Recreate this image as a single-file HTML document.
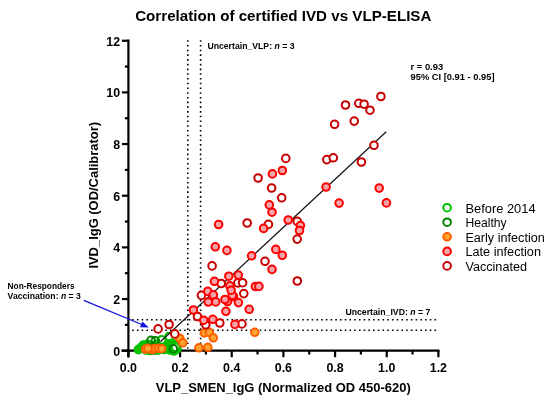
<!DOCTYPE html>
<html><head><meta charset="utf-8"><style>
html,body{margin:0;padding:0;background:#fff;}
svg{display:block;will-change:transform;}
text{font-family:"Liberation Sans",sans-serif;}
</style></head><body>
<svg width="550" height="403" viewBox="0 0 550 403">
<rect width="550" height="403" fill="#fff"/>
<text x="135.2" y="20.7" font-weight="bold" font-size="15.5" textLength="296.2" lengthAdjust="spacingAndGlyphs" fill="#000">Correlation of certified IVD vs VLP-ELISA</text>
<g stroke="#000" stroke-width="1.6" stroke-dasharray="1.6 3.123" fill="none">
<line x1="187.8" y1="40.2" x2="187.8" y2="348.6"/>
<line x1="200.6" y1="40.2" x2="200.6" y2="348.6"/>
<line x1="132.2" y1="319.8" x2="436.1" y2="319.8"/>
<line x1="132.2" y1="330.3" x2="436.1" y2="330.3"/>
</g>
<g stroke="#000" stroke-width="2.2" fill="none">
<line x1="128.4" y1="39.4" x2="128.4" y2="357.4"/>
<line x1="121.4" y1="350.7" x2="439.5" y2="350.7"/>
<line x1="121.9" y1="350.70" x2="128.4" y2="350.70"/><line x1="124.9" y1="324.87" x2="128.4" y2="324.87"/><line x1="121.9" y1="299.04" x2="128.4" y2="299.04"/><line x1="124.9" y1="273.21" x2="128.4" y2="273.21"/><line x1="121.9" y1="247.38" x2="128.4" y2="247.38"/><line x1="124.9" y1="221.55" x2="128.4" y2="221.55"/><line x1="121.9" y1="195.72" x2="128.4" y2="195.72"/><line x1="124.9" y1="169.89" x2="128.4" y2="169.89"/><line x1="121.9" y1="144.06" x2="128.4" y2="144.06"/><line x1="124.9" y1="118.23" x2="128.4" y2="118.23"/><line x1="121.9" y1="92.40" x2="128.4" y2="92.40"/><line x1="124.9" y1="66.57" x2="128.4" y2="66.57"/><line x1="121.9" y1="40.74" x2="128.4" y2="40.74"/><line x1="128.40" y1="350.7" x2="128.40" y2="357.2"/><line x1="154.23" y1="350.7" x2="154.23" y2="354.5"/><line x1="180.07" y1="350.7" x2="180.07" y2="357.2"/><line x1="205.90" y1="350.7" x2="205.90" y2="354.5"/><line x1="231.73" y1="350.7" x2="231.73" y2="357.2"/><line x1="257.56" y1="350.7" x2="257.56" y2="354.5"/><line x1="283.40" y1="350.7" x2="283.40" y2="357.2"/><line x1="309.23" y1="350.7" x2="309.23" y2="354.5"/><line x1="335.06" y1="350.7" x2="335.06" y2="357.2"/><line x1="360.90" y1="350.7" x2="360.90" y2="354.5"/><line x1="386.73" y1="350.7" x2="386.73" y2="357.2"/><line x1="412.56" y1="350.7" x2="412.56" y2="354.5"/><line x1="438.40" y1="350.7" x2="438.40" y2="357.2"/>
</g>
<g font-weight="bold" font-size="12.4" fill="#000">
<text x="120.1" y="355.50" text-anchor="end">0</text>
<text x="120.1" y="303.84" text-anchor="end">2</text>
<text x="120.1" y="252.18" text-anchor="end">4</text>
<text x="120.1" y="200.52" text-anchor="end">6</text>
<text x="120.1" y="148.86" text-anchor="end">8</text>
<text x="120.1" y="97.20" text-anchor="end">10</text>
<text x="120.1" y="45.54" text-anchor="end">12</text>
<text x="128.40" y="371.6" text-anchor="middle">0.0</text>
<text x="180.07" y="371.6" text-anchor="middle">0.2</text>
<text x="231.73" y="371.6" text-anchor="middle">0.4</text>
<text x="283.40" y="371.6" text-anchor="middle">0.6</text>
<text x="335.06" y="371.6" text-anchor="middle">0.8</text>
<text x="386.73" y="371.6" text-anchor="middle">1.0</text>
<text x="438.40" y="371.6" text-anchor="middle">1.2</text>
</g>
<text x="155.8" y="392.2" font-weight="bold" font-size="13.6" textLength="254.9" lengthAdjust="spacingAndGlyphs" fill="#000">VLP_SMEN_IgG (Normalized OD 450-620)</text>
<text transform="translate(98.2,268.6) rotate(-90)" font-weight="bold" font-size="13.6" textLength="146.6" lengthAdjust="spacingAndGlyphs" fill="#000">IVD_IgG (OD/Calibrator)</text>
<g font-weight="bold" font-size="9.2" fill="#000">
<text x="207.4" y="48.6" textLength="87.1" lengthAdjust="spacingAndGlyphs">Uncertain_VLP: <tspan font-style="italic">n</tspan> = 3</text>
<text x="345.4" y="314.6" textLength="85" lengthAdjust="spacingAndGlyphs">Uncertain_IVD: <tspan font-style="italic">n</tspan> = 7</text>
<text x="410.5" y="69.5" font-size="9.3" textLength="32.7" lengthAdjust="spacingAndGlyphs">r = 0.93</text>
<text x="410.5" y="79.9" font-size="9.3" textLength="84" lengthAdjust="spacingAndGlyphs">95% CI [0.91 - 0.95]</text>
<text x="7.6" y="288.6" textLength="67" lengthAdjust="spacingAndGlyphs">Non-Responders</text>
<text x="7.6" y="298.6" textLength="73.3" lengthAdjust="spacingAndGlyphs">Vaccination: <tspan font-style="italic">n</tspan> = 3</text>
</g>
<line x1="83.8" y1="300.4" x2="143" y2="325" stroke="#1212dd" stroke-width="1.3"/>
<polygon points="148.8,327.4 140,327.3 142.4,321.6" fill="#1212dd"/>
<g>
<circle cx="138.3" cy="349.6" r="3.8" stroke="#00c000" fill="#00c000" stroke-width="2.0"/>
<circle cx="141.0" cy="347.5" r="3.8" stroke="#00c000" fill="#00c000" stroke-width="2.0"/>
<circle cx="144.3" cy="345.8" r="3.8" stroke="#00c000" fill="#00c000" stroke-width="2.0"/>
<circle cx="147.5" cy="344.2" r="3.8" stroke="#00c000" fill="#00c000" stroke-width="2.0"/>
<circle cx="143.4" cy="345.0" r="3.8" stroke="#00c000" fill="#00c000" stroke-width="2.0"/>
<circle cx="150.0" cy="346.5" r="3.8" stroke="#00c000" fill="#00c000" stroke-width="2.0"/>
<circle cx="146.0" cy="350.0" r="3.8" stroke="#00c000" fill="#00c000" stroke-width="2.0"/>
<circle cx="154.0" cy="345.5" r="3.8" stroke="#00c000" fill="#00c000" stroke-width="2.0"/>
<circle cx="157.5" cy="344.0" r="3.8" stroke="#00c000" fill="#00c000" stroke-width="2.0"/>
<circle cx="160.0" cy="346.0" r="3.8" stroke="#00c000" fill="#00c000" stroke-width="2.0"/>
<circle cx="163.5" cy="344.0" r="3.8" stroke="#00c000" fill="#00c000" stroke-width="2.0"/>
<circle cx="166.0" cy="342.5" r="3.8" stroke="#00c000" fill="#00c000" stroke-width="2.0"/>
<circle cx="168.0" cy="345.5" r="3.8" stroke="#00c000" fill="#00c000" stroke-width="2.0"/>
<circle cx="171.0" cy="343.0" r="3.8" stroke="#00c000" fill="#00c000" stroke-width="2.0"/>
<circle cx="175.0" cy="344.0" r="3.8" stroke="#00c000" fill="#00c000" stroke-width="2.0"/>
<circle cx="164.0" cy="349.5" r="3.8" stroke="#00c000" fill="#00c000" stroke-width="2.0"/>
<circle cx="170.0" cy="350.0" r="3.8" stroke="#00c000" fill="#00c000" stroke-width="2.0"/>
<circle cx="158.0" cy="350.0" r="3.8" stroke="#00c000" fill="#00c000" stroke-width="2.0"/>
<circle cx="155.0" cy="350.0" r="3.8" stroke="#00c000" fill="#00c000" stroke-width="2.0"/>
<circle cx="150.0" cy="350.5" r="3.8" stroke="#00c000" fill="#00c000" stroke-width="2.0"/>
<circle cx="174.0" cy="351.0" r="3.8" stroke="#00c000" fill="#00c000" stroke-width="2.0"/>
<circle cx="177.0" cy="349.0" r="3.8" stroke="#00c000" fill="#00c000" stroke-width="2.0"/>
<circle cx="169.1" cy="336.5" r="3.8" stroke="#00c000" fill="#fff" stroke-width="2.0"/>
<circle cx="161.7" cy="339.7" r="3.8" stroke="#00c000" fill="#fff" stroke-width="2.0"/>
<circle cx="175.6" cy="347.2" r="3.8" stroke="#00c000" fill="#fff" stroke-width="2.0"/>
<circle cx="151.0" cy="340.4" r="3.8" stroke="#008000" fill="none" stroke-width="2.0"/>
<circle cx="155.3" cy="340.8" r="3.8" stroke="#008000" fill="none" stroke-width="2.0"/>
<circle cx="173.3" cy="348.7" r="3.8" stroke="#008000" fill="none" stroke-width="2.0"/>
<circle cx="179.8" cy="338.4" r="3.8" stroke="#ff5f00" fill="#ffa333" stroke-width="2.0"/>
<circle cx="182.8" cy="342.8" r="3.8" stroke="#ff5f00" fill="#ffa333" stroke-width="2.0"/>
<circle cx="204.4" cy="332.9" r="3.8" stroke="#ff5f00" fill="#ffa333" stroke-width="2.0"/>
<circle cx="209.3" cy="332.4" r="3.8" stroke="#ff5f00" fill="#ffa333" stroke-width="2.0"/>
<circle cx="213.3" cy="337.8" r="3.8" stroke="#ff5f00" fill="#ffa333" stroke-width="2.0"/>
<circle cx="198.9" cy="347.8" r="3.8" stroke="#ff5f00" fill="#ffa333" stroke-width="2.0"/>
<circle cx="207.8" cy="347.3" r="3.8" stroke="#ff5f00" fill="#ffa333" stroke-width="2.0"/>
<circle cx="254.8" cy="332.3" r="3.8" stroke="#ff5f00" fill="#ffa333" stroke-width="2.0"/>
<circle cx="145.6" cy="349.0" r="3.8" stroke="#ff5f00" fill="#ffa333" stroke-width="2.0"/>
<circle cx="152.0" cy="349.6" r="3.8" stroke="#ff5f00" fill="#ffa333" stroke-width="2.0"/>
<circle cx="155.0" cy="348.5" r="3.8" stroke="#ff5f00" fill="#ffa333" stroke-width="2.0"/>
<circle cx="148.0" cy="348.4" r="3.8" stroke="#ff5f00" fill="#ffa333" stroke-width="2.0"/>
<circle cx="158.5" cy="348.2" r="3.8" stroke="#ff5f00" fill="#ffa333" stroke-width="2.0"/>
<circle cx="161.7" cy="348.7" r="3.8" stroke="#ff5f00" fill="#ffa333" stroke-width="2.0"/>
</g>
<line x1="160.4" y1="341.7" x2="386.2" y2="131.8" stroke="#111" stroke-width="1.2"/>
<g>
<circle cx="380.9" cy="96.5" r="3.8" stroke="#c80000" fill="#fff" stroke-width="2.0"/>
<circle cx="345.5" cy="105.0" r="3.8" stroke="#c80000" fill="#fff" stroke-width="2.0"/>
<circle cx="358.8" cy="103.3" r="3.8" stroke="#c80000" fill="#fff" stroke-width="2.0"/>
<circle cx="364.1" cy="104.2" r="3.8" stroke="#c80000" fill="#fff" stroke-width="2.0"/>
<circle cx="370.0" cy="110.2" r="3.8" stroke="#c80000" fill="#fff" stroke-width="2.0"/>
<circle cx="334.6" cy="124.3" r="3.8" stroke="#c80000" fill="#fff" stroke-width="2.0"/>
<circle cx="354.2" cy="121.1" r="3.8" stroke="#c80000" fill="#fff" stroke-width="2.0"/>
<circle cx="374.0" cy="145.3" r="3.8" stroke="#c80000" fill="#fff" stroke-width="2.0"/>
<circle cx="326.8" cy="159.6" r="3.8" stroke="#c80000" fill="#fff" stroke-width="2.0"/>
<circle cx="333.3" cy="157.8" r="3.8" stroke="#c80000" fill="#fff" stroke-width="2.0"/>
<circle cx="361.4" cy="162.0" r="3.8" stroke="#c80000" fill="#fff" stroke-width="2.0"/>
<circle cx="285.8" cy="158.4" r="3.8" stroke="#c80000" fill="#fff" stroke-width="2.0"/>
<circle cx="258.1" cy="178.0" r="3.8" stroke="#c80000" fill="#fff" stroke-width="2.0"/>
<circle cx="271.6" cy="188.0" r="3.8" stroke="#c80000" fill="#fff" stroke-width="2.0"/>
<circle cx="281.7" cy="197.8" r="3.8" stroke="#c80000" fill="#fff" stroke-width="2.0"/>
<circle cx="297.2" cy="221.3" r="3.8" stroke="#c80000" fill="#fff" stroke-width="2.0"/>
<circle cx="297.2" cy="239.1" r="3.8" stroke="#c80000" fill="#fff" stroke-width="2.0"/>
<circle cx="247.2" cy="223.0" r="3.8" stroke="#c80000" fill="#fff" stroke-width="2.0"/>
<circle cx="268.4" cy="224.4" r="3.8" stroke="#c80000" fill="#fff" stroke-width="2.0"/>
<circle cx="265.0" cy="261.3" r="3.8" stroke="#c80000" fill="#fff" stroke-width="2.0"/>
<circle cx="297.3" cy="281.0" r="3.8" stroke="#c80000" fill="#fff" stroke-width="2.0"/>
<circle cx="212.1" cy="265.9" r="3.8" stroke="#c80000" fill="#fff" stroke-width="2.0"/>
<circle cx="221.2" cy="283.5" r="3.8" stroke="#c80000" fill="#fff" stroke-width="2.0"/>
<circle cx="237.9" cy="282.9" r="3.8" stroke="#c80000" fill="#fff" stroke-width="2.0"/>
<circle cx="242.6" cy="282.7" r="3.8" stroke="#c80000" fill="#fff" stroke-width="2.0"/>
<circle cx="243.8" cy="293.6" r="3.8" stroke="#c80000" fill="#fff" stroke-width="2.0"/>
<circle cx="201.4" cy="295.4" r="3.8" stroke="#c80000" fill="#fff" stroke-width="2.0"/>
<circle cx="197.5" cy="316.5" r="3.8" stroke="#c80000" fill="#fff" stroke-width="2.0"/>
<circle cx="205.8" cy="324.8" r="3.8" stroke="#c80000" fill="#fff" stroke-width="2.0"/>
<circle cx="219.8" cy="323.0" r="3.8" stroke="#c80000" fill="#fff" stroke-width="2.0"/>
<circle cx="241.9" cy="323.9" r="3.8" stroke="#c80000" fill="#fff" stroke-width="2.0"/>
<circle cx="158.1" cy="328.9" r="3.8" stroke="#c80000" fill="#fff" stroke-width="2.0"/>
<circle cx="169.1" cy="324.5" r="3.8" stroke="#c80000" fill="#fff" stroke-width="2.0"/>
<circle cx="174.8" cy="333.9" r="3.8" stroke="#c80000" fill="#fff" stroke-width="2.0"/>
<circle cx="379.2" cy="188.1" r="3.8" stroke="#ff0000" fill="#f7a3aa" stroke-width="2.0"/>
<circle cx="386.4" cy="202.9" r="3.8" stroke="#ff0000" fill="#f7a3aa" stroke-width="2.0"/>
<circle cx="326.1" cy="187.0" r="3.8" stroke="#ff0000" fill="#f7a3aa" stroke-width="2.0"/>
<circle cx="339.1" cy="203.1" r="3.8" stroke="#ff0000" fill="#f7a3aa" stroke-width="2.0"/>
<circle cx="282.3" cy="170.5" r="3.8" stroke="#ff0000" fill="#f7a3aa" stroke-width="2.0"/>
<circle cx="272.4" cy="173.9" r="3.8" stroke="#ff0000" fill="#f7a3aa" stroke-width="2.0"/>
<circle cx="269.3" cy="204.9" r="3.8" stroke="#ff0000" fill="#f7a3aa" stroke-width="2.0"/>
<circle cx="272.0" cy="212.2" r="3.8" stroke="#ff0000" fill="#f7a3aa" stroke-width="2.0"/>
<circle cx="288.2" cy="220.0" r="3.8" stroke="#ff0000" fill="#f7a3aa" stroke-width="2.0"/>
<circle cx="300.4" cy="225.5" r="3.8" stroke="#ff0000" fill="#f7a3aa" stroke-width="2.0"/>
<circle cx="299.5" cy="230.5" r="3.8" stroke="#ff0000" fill="#f7a3aa" stroke-width="2.0"/>
<circle cx="218.6" cy="224.5" r="3.8" stroke="#ff0000" fill="#f7a3aa" stroke-width="2.0"/>
<circle cx="263.6" cy="228.4" r="3.8" stroke="#ff0000" fill="#f7a3aa" stroke-width="2.0"/>
<circle cx="215.3" cy="246.8" r="3.8" stroke="#ff0000" fill="#f7a3aa" stroke-width="2.0"/>
<circle cx="226.9" cy="250.4" r="3.8" stroke="#ff0000" fill="#f7a3aa" stroke-width="2.0"/>
<circle cx="251.6" cy="255.8" r="3.8" stroke="#ff0000" fill="#f7a3aa" stroke-width="2.0"/>
<circle cx="272.0" cy="269.4" r="3.8" stroke="#ff0000" fill="#f7a3aa" stroke-width="2.0"/>
<circle cx="275.8" cy="249.4" r="3.8" stroke="#ff0000" fill="#f7a3aa" stroke-width="2.0"/>
<circle cx="282.3" cy="255.3" r="3.8" stroke="#ff0000" fill="#f7a3aa" stroke-width="2.0"/>
<circle cx="228.8" cy="276.2" r="3.8" stroke="#ff0000" fill="#f7a3aa" stroke-width="2.0"/>
<circle cx="238.3" cy="275.1" r="3.8" stroke="#ff0000" fill="#f7a3aa" stroke-width="2.0"/>
<circle cx="214.4" cy="281.3" r="3.8" stroke="#ff0000" fill="#f7a3aa" stroke-width="2.0"/>
<circle cx="229.9" cy="285.9" r="3.8" stroke="#ff0000" fill="#f7a3aa" stroke-width="2.0"/>
<circle cx="233.5" cy="296.5" r="3.8" stroke="#ff0000" fill="#f7a3aa" stroke-width="2.0"/>
<circle cx="232.3" cy="295.2" r="3.8" stroke="#ff0000" fill="#f7a3aa" stroke-width="2.0"/>
<circle cx="231.1" cy="290.2" r="3.8" stroke="#ff0000" fill="#f7a3aa" stroke-width="2.0"/>
<circle cx="207.8" cy="291.4" r="3.8" stroke="#ff0000" fill="#f7a3aa" stroke-width="2.0"/>
<circle cx="213.3" cy="294.9" r="3.8" stroke="#ff0000" fill="#f7a3aa" stroke-width="2.0"/>
<circle cx="208.3" cy="302.0" r="3.8" stroke="#ff0000" fill="#f7a3aa" stroke-width="2.0"/>
<circle cx="215.8" cy="301.9" r="3.8" stroke="#ff0000" fill="#f7a3aa" stroke-width="2.0"/>
<circle cx="227.5" cy="301.5" r="3.8" stroke="#ff0000" fill="#f7a3aa" stroke-width="2.0"/>
<circle cx="225.0" cy="299.5" r="3.8" stroke="#ff0000" fill="#f7a3aa" stroke-width="2.0"/>
<circle cx="238.4" cy="302.6" r="3.8" stroke="#ff0000" fill="#f7a3aa" stroke-width="2.0"/>
<circle cx="225.9" cy="311.3" r="3.8" stroke="#ff0000" fill="#f7a3aa" stroke-width="2.0"/>
<circle cx="249.2" cy="309.3" r="3.8" stroke="#ff0000" fill="#f7a3aa" stroke-width="2.0"/>
<circle cx="255.4" cy="286.5" r="3.8" stroke="#ff0000" fill="#f7a3aa" stroke-width="2.0"/>
<circle cx="258.9" cy="286.4" r="3.8" stroke="#ff0000" fill="#f7a3aa" stroke-width="2.0"/>
<circle cx="193.4" cy="310.0" r="3.8" stroke="#ff0000" fill="#f7a3aa" stroke-width="2.0"/>
<circle cx="203.7" cy="320.2" r="3.8" stroke="#ff0000" fill="#f7a3aa" stroke-width="2.0"/>
<circle cx="212.8" cy="319.3" r="3.8" stroke="#ff0000" fill="#f7a3aa" stroke-width="2.0"/>
<circle cx="234.9" cy="324.4" r="3.8" stroke="#ff0000" fill="#f7a3aa" stroke-width="2.0"/>
</g>
<g>
<circle cx="447.1" cy="207.7" r="3.8" stroke="#00c000" fill="#fff" stroke-width="2"/>
<circle cx="447.1" cy="222.2" r="3.8" stroke="#008000" fill="#fff" stroke-width="2"/>
<circle cx="447.1" cy="236.8" r="3.8" stroke="#ff5f00" fill="#ffa333" stroke-width="2"/>
<circle cx="447.1" cy="251.4" r="3.8" stroke="#ff0000" fill="#f7a3aa" stroke-width="2"/>
<circle cx="447.1" cy="265.9" r="3.8" stroke="#c80000" fill="#fff" stroke-width="2"/>
</g>
<g font-size="12.5" fill="#000">
<text x="465.4" y="212.6" textLength="70.2" lengthAdjust="spacingAndGlyphs">Before 2014</text>
<text x="465.4" y="227.1" textLength="41.2" lengthAdjust="spacingAndGlyphs">Healthy</text>
<text x="465.4" y="241.7" textLength="79.4" lengthAdjust="spacingAndGlyphs">Early infection</text>
<text x="465.4" y="256.4" textLength="75.6" lengthAdjust="spacingAndGlyphs">Late infection</text>
<text x="465.4" y="270.7" textLength="61.6" lengthAdjust="spacingAndGlyphs">Vaccinated</text>
</g>
</svg>
</body></html>
